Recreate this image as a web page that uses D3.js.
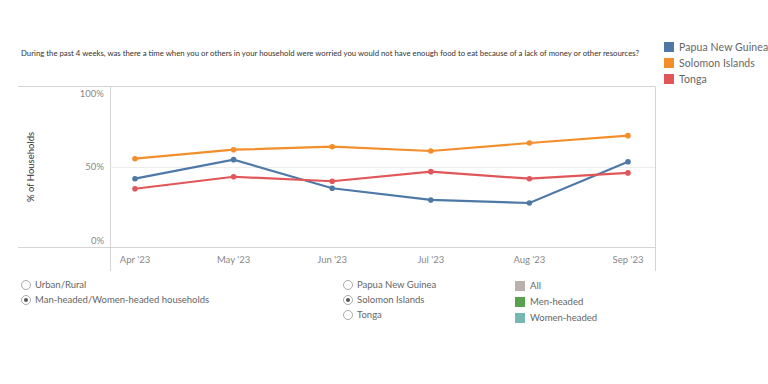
<!DOCTYPE html>
<html>
<head>
<meta charset="utf-8">
<script src="https://cdn.jsdelivr.net/npm/d3@7"></script>
<style>
  body { margin: 0; background: #fff; }
  text { font-family: Lato, "Open Sans", sans-serif; }
</style>
</head>
<body>
<div id="chart"></div>
<script>
// chart data
var months = ["Apr '23", "May '23", "Jun '23", "Jul '23", "Aug '23", "Sep '23"];
var countries = ["Papua New Guinea", "Solomon Islands", "Tonga"];
var png = [42.7, 54.6, 36.7, 29.4, 27.5, 53.3];
var solomon = [55.2, 60.8, 62.7, 60.0, 65.0, 69.6];
var tonga = [36.4, 43.9, 41.1, 47.1, 42.7, 46.3];
var yTicks = [0, 50, 100];
var breakdowns = ["Urban/Rural", "Man-headed/Women-headed households"];
var headTypes = ["All", "Men-headed", "Women-headed"];

var colors = ["#4e79a7", "#f28e2b", "#e15759"];
var headColors = ["#bab0ac", "#59a14f", "#76b7b2"];
var series = [png, solomon, tonga];

var W = 768, H = 384;
var svg = d3.select("#chart").append("svg")
    .attr("width", W)
    .attr("height", H);

// title question
svg.append("text")
    .attr("x", 21).attr("y", 56)
    .attr("font-size", 7.2)
    .attr("fill", "#333")
    .attr("textLength", 618)
    .attr("lengthAdjust", "spacingAndGlyphs")
    .text("During the past 4 weeks, was there a time when you or others in your household were worried you would not have enough food to eat because of a lack of money or other resources?");

// plot area
var pLeft = 110, pRight = 655, pTop = 87, pBottom = 247;

var x = d3.scalePoint()
    .domain(months)
    .range([135, 628]);

var y = d3.scaleLinear()
    .domain([0, 100])
    .range([pBottom, pTop]);

// frame lines
var frame = svg.append("g").attr("stroke", "#d4d4d4").attr("stroke-width", 1);
frame.append("line").attr("x1", 18).attr("x2", pRight).attr("y1", pTop - 0.5).attr("y2", pTop - 0.5);
frame.append("line").attr("x1", 18).attr("x2", pRight).attr("y1", pBottom + 0.5).attr("y2", pBottom + 0.5);
frame.append("line").attr("x1", pLeft + 0.5).attr("x2", pLeft + 0.5).attr("y1", pTop - 0.5).attr("y2", 271);
frame.append("line").attr("x1", pRight + 0.5).attr("x2", pRight + 0.5).attr("y1", pTop - 0.5).attr("y2", 271);

// 50% gridline
svg.append("line")
    .attr("x1", pLeft).attr("x2", pRight)
    .attr("y1", Math.round(y(50)) + 0.5).attr("y2", Math.round(y(50)) + 0.5)
    .attr("stroke", "#ececec");

// y axis labels (Tableau clamps end labels inside the pane)
svg.append("g").selectAll("text")
    .data(yTicks)
    .enter().append("text")
    .attr("x", 104)
    .attr("y", function(d) { return Math.min(Math.max(y(d), pTop + 7), pBottom - 6); })
    .attr("dy", "0.35em")
    .attr("text-anchor", "end")
    .attr("font-size", 9.5)
    .attr("fill", "#888")
    .text(function(d) { return d + "%"; });

svg.append("text")
    .attr("transform", "translate(34," + y(50) + ") rotate(-90)")
    .attr("text-anchor", "middle")
    .attr("font-size", 9.5)
    .attr("fill", "#333")
    .text("% of Households");

// x axis labels
svg.append("g").selectAll("text")
    .data(months)
    .enter().append("text")
    .attr("x", function(d) { return x(d); })
    .attr("y", 263)
    .attr("text-anchor", "middle")
    .attr("font-size", 9.5)
    .attr("fill", "#888")
    .text(function(d) { return d; });

// lines + points
var line = d3.line()
    .x(function(d, i) { return x(months[i]); })
    .y(function(d) { return y(d); });

series.forEach(function(s, k) {
  svg.append("path")
    .datum(s)
    .attr("d", line)
    .attr("fill", "none")
    .attr("stroke", colors[k])
    .attr("stroke-width", 2.2);
  svg.append("g").selectAll("circle")
    .data(s)
    .enter().append("circle")
    .attr("cx", function(d, i) { return x(months[i]); })
    .attr("cy", function(d) { return y(d); })
    .attr("r", 2.8)
    .attr("fill", colors[k]);
});

// colour legend
var leg = svg.append("g").selectAll("g")
    .data(countries)
    .enter().append("g")
    .attr("transform", function(d, i) { return "translate(664," + (42 + i * 16) + ")"; });
leg.append("rect").attr("width", 10).attr("height", 10)
    .attr("fill", function(d, i) { return colors[i]; });
leg.append("text").attr("x", 15).attr("y", 5).attr("dy", "0.35em")
    .attr("font-size", 10.5).attr("fill", "#666")
    .attr("letter-spacing", 0.1)
    .text(function(d) { return d; });

// radio filters
function radios(items, x0, y0, selected) {
  var g = svg.append("g").selectAll("g")
    .data(items)
    .enter().append("g")
    .attr("transform", function(d, i) { return "translate(" + x0 + "," + (y0 + i * 15) + ")"; });
  g.append("circle").attr("r", 4.5).attr("fill", "#fff").attr("stroke", "#aaa");
  g.filter(function(d, i) { return i === selected; })
    .append("circle").attr("r", 2).attr("fill", "#555");
  g.append("text").attr("x", 9).attr("dy", "0.35em")
    .attr("font-size", 9.5).attr("fill", "#666")
    .text(function(d) { return d; });
}
radios(breakdowns, 26, 285, 1);
radios(countries, 348, 285, 1);

// household head legend
var hl = svg.append("g").selectAll("g")
    .data(headTypes)
    .enter().append("g")
    .attr("transform", function(d, i) { return "translate(515," + (281 + i * 16) + ")"; });
hl.append("rect").attr("width", 10).attr("height", 10)
    .attr("fill", function(d, i) { return headColors[i]; });
hl.append("text").attr("x", 15).attr("y", 5).attr("dy", "0.35em")
    .attr("font-size", 9.5).attr("fill", "#666")
    .text(function(d) { return d; });
</script>
</body>
</html>
